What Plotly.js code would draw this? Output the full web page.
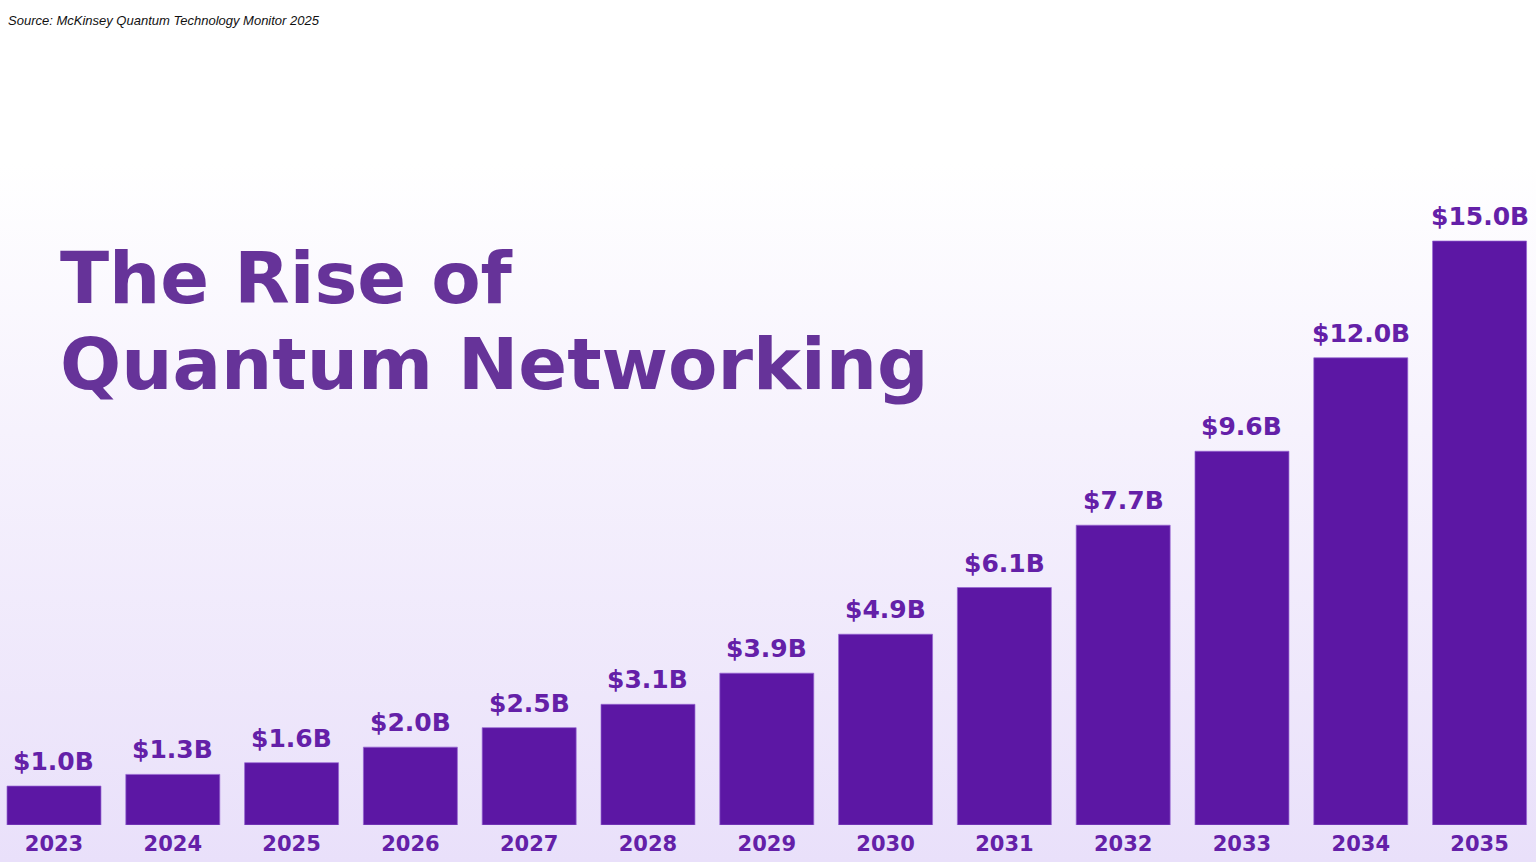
<!DOCTYPE html>
<html>
<head>
<meta charset="utf-8">
<script src="https://cdn.plot.ly/plotly-3.0.1.min.js"></script>
<style>
  html, body { margin: 0; padding: 0; width: 1536px; height: 862px; overflow: hidden; }
  body { background: linear-gradient(to bottom, #ffffff 0%, #ffffff 19%, #f6f2fd 50%, #e9e0fa 100%); }
  #chart { width: 1536px; height: 862px; }
</style>
</head>
<body>
<div id="chart"></div>
<script>
const years = ["2023","2024","2025","2026","2027","2028","2029","2030","2031","2032","2033","2034","2035"];
const marketValues = [1.0, 1.3, 1.6, 2.0, 2.5, 3.1, 3.9, 4.9, 6.1, 7.7, 9.6, 12.0, 15.0];
const valueLabels = ["$1.0B","$1.3B","$1.6B","$2.0B","$2.5B","$3.1B","$3.9B","$4.9B","$6.1B","$7.7B","$9.6B","$12.0B","$15.0B"];
const titleLines = ["The Rise of", "Quantum Networking"];
const sourceNote = "Source: McKinsey Quantum Technology Monitor 2025";

const barColor = "#5c17a4";
const labelColor = "#6420a8";
const titleColor = "#663399";

const trace = {
  type: "bar",
  x: years,
  y: marketValues,
  marker: { color: barColor, line: { color: "rgba(150,100,210,0.7)", width: 1 } },
  hoverinfo: "x+y"
};

const H = 825; // plot height in px (margin.t = 0)
function py(p) { return 1 - p / H; }

const annotations = [];
years.forEach((yr, i) => {
  annotations.push({
    x: i, y: marketValues[i], xref: "x", yref: "y",
    text: "<b>" + valueLabels[i] + "</b>", showarrow: false,
    yanchor: "bottom", yshift: 8,
    font: { family: "DejaVu Sans", size: 25, color: labelColor }
  });
});
annotations.push({
  x: 58 / 1536, xref: "paper", y: py(278), yref: "paper", xanchor: "left", yanchor: "middle",
  text: "<b>" + titleLines[0] + "</b>", showarrow: false,
  font: { family: "DejaVu Sans", size: 72, color: titleColor }
});
annotations.push({
  x: 58 / 1536, xref: "paper", y: py(364), yref: "paper", xanchor: "left", yanchor: "middle",
  text: "<b>" + titleLines[1] + "</b>", showarrow: false,
  font: { family: "DejaVu Sans", size: 72, color: titleColor }
});
annotations.push({
  x: 6 / 1536, xref: "paper", y: py(20), yref: "paper", xanchor: "left", yanchor: "middle",
  text: "<i>" + sourceNote + "</i>", showarrow: false,
  font: { family: "Liberation Sans", size: 13, color: "#111111" }
});

const layout = {
  width: 1536, height: 862,
  margin: { l: 0, r: 0, t: 0, b: 37, pad: 0 },
  paper_bgcolor: "rgba(0,0,0,0)",
  plot_bgcolor: "rgba(0,0,0,0)",
  bargap: 0.209,
  showlegend: false,
  xaxis: {
    type: "category",
    range: [-0.4545, 12.475],
    showgrid: false, zeroline: false, showline: false, ticks: "",
    tickfont: { family: "DejaVu Sans", size: 21, color: labelColor, weight: "bold" },
    ticklabelstandoff: 4
  },
  yaxis: {
    range: [0, 21.19],
    visible: false, showgrid: false, zeroline: false, fixedrange: true
  },
  annotations: annotations
};

Plotly.newPlot("chart", [trace], layout, { displayModeBar: false, staticPlot: true });
</script>
</body>
</html>
